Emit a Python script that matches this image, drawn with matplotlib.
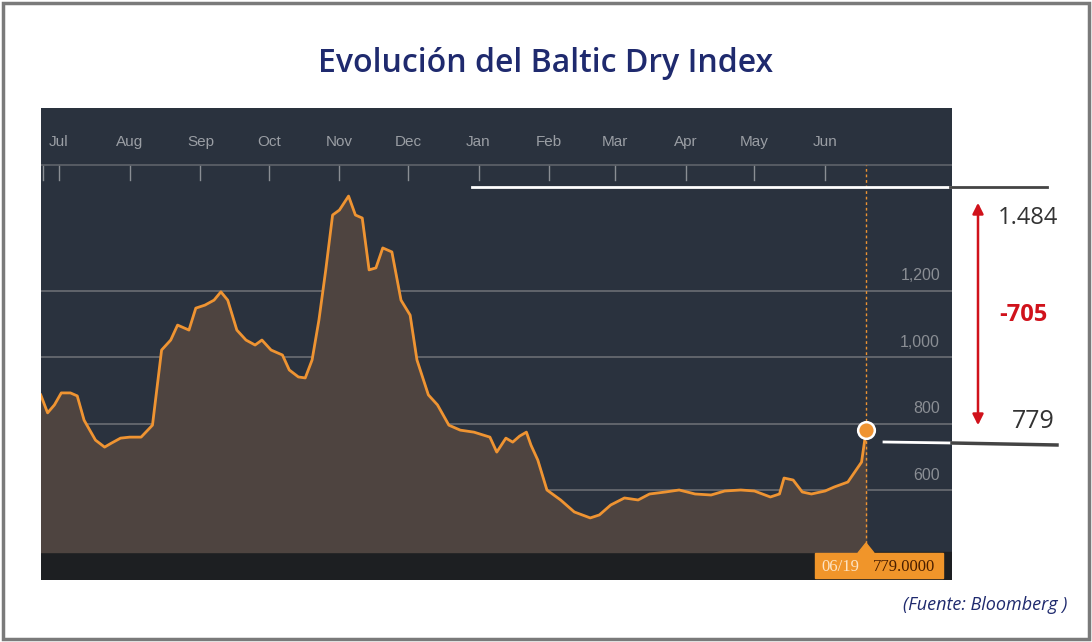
import matplotlib
matplotlib.use("Agg")
import matplotlib.pyplot as plt
from matplotlib.patches import Rectangle, Polygon, FancyArrowPatch
from matplotlib.lines import Line2D

# days since 2015-07-01
days = [-8,-5,-2,1,5,8,11,16,20,23,27,31,36,41,45,49,52,57,60,64,68,71,74,78,82,86,89,93,98,101,
        105,108,111,114,117,120,123,127,130,133,136,139,142,146,150,154,157,162,166,171,176,182,189,
        192,196,199,202,205,207,210,214,220,226,233,237,242,248,254,259,266,272,279,286,292,299,305,
        312,316,318,322,326,330,336,340,346,349,352,354]
values = [886,832,856,892,892,883,810,750,729,741,756,759,759,795,1021,1051,1096,1081,1147,1156,
          1171,1196,1171,1081,1051,1036,1051,1021,1006,961,940,937,991,1111,1262,1427,1442,1484,
          1427,1418,1262,1268,1328,1316,1171,1126,991,886,856,795,780,774,759,714,756,744,762,774,
          735,690,600,570,534,516,525,555,576,570,588,594,600,588,585,597,600,597,579,588,636,630,
          594,588,597,609,624,654,684,779]
month_labels = ["Jul","Aug","Sep","Oct","Nov","Dec","Jan","Feb","Mar","Apr","May","Jun"]
month_days = [0,31,62,92,123,153,184,215,244,275,305,336]
y_ticks = [600,800,1000,1200]
y_tick_labels = ["600","800","1,000","1,200"]
last_label = "06/19"
last_value = "779.0000"
title = "Evolución del Baltic Dry Index"
source = "(Fuente: Bloomberg )"

W, H = 1092, 642
fig = plt.figure(figsize=(W/100, H/100), dpi=100)
def fx(x): return x / W
def fy(y): return 1 - y / H

fig.add_artist(Rectangle((fx(3), fy(639)), fx(1086), (636)/H, transform=fig.transFigure,
                         fill=False, edgecolor="#7a7a7a", lw=2.5))

k = 0.3325
def v_of(py): return 600 + (490 - py) / k
def d_of(px): return (px - 59) / 2.28

ax = fig.add_axes([fx(41), fy(580), (952-41)/W, (580-108)/H])
ax.set_xlim(d_of(41), d_of(952))
ax.set_ylim(v_of(580), v_of(108))
ax.set_facecolor("#2a323e")
for s in ax.spines.values():
    s.set_visible(False)
ax.set_xticks([]); ax.set_yticks([])

base = v_of(552)
ax.axhspan(v_of(580), base, color="#1d1f22", zorder=1)
for yv, lab in zip(y_ticks, y_tick_labels):
    ax.axhline(yv, color="#6a6e74", lw=1.2, zorder=2)
    ax.text(d_of(940), yv + 45, lab, ha="right", va="center", color="#8a8e94", fontsize=11.5,
            family="Liberation Sans")
ax.fill_between(days, values, base, color="#4e4440", zorder=3)
ax.plot(days, values, color="#ef9432", lw=2, zorder=4)

ax.axhline(v_of(165), color="#5e636a", lw=1.2)
ax.plot([d_of(43)]*2, [v_of(166), v_of(180)], color="#8a8e94", lw=1)
for d, lab in zip(month_days, month_labels):
    ax.plot([d, d], [v_of(166), v_of(180)], color="#8a8e94", lw=1)
    ax.text(d, v_of(142), lab, ha="center", va="center", color="#9a9ea4", fontsize=11,
            family="Liberation Sans")

ld, lv = days[-1], values[-1]
ax.plot([ld, ld], [base + 10, v_of(165)], color="#ef9432", lw=1, ls=(0, (2, 2)), zorder=3)
ax.plot([ld], [lv], "o", ms=12, mfc="#ef9432", mec="white", mew=1.8, zorder=6)

fig.add_artist(Rectangle((fx(815), fy(578)), (943-815)/W, 25/H, transform=fig.transFigure,
                         color="#f0952a", zorder=10))
fig.add_artist(Polygon([(fx(858), fy(553)), (fx(874), fy(553)), (fx(866), fy(543))],
                       transform=fig.transFigure, color="#f0952a", zorder=10))
fig.text(fx(840), fy(567), last_label, color="#fde4c4", fontsize=12, family="Liberation Serif",
         ha="center", va="center", zorder=11)
fig.text(fx(904), fy(567), last_value, color="#4a1e00", fontsize=12, family="Liberation Serif",
         ha="center", va="center", zorder=11)

def fline(x0, y0, x1, y1, c, lw=2):
    fig.add_artist(Line2D([fx(x0), fx(x1)], [fy(y0), fy(y1)], transform=fig.transFigure,
                          color=c, lw=lw, zorder=9))
fline(472, 187, 950, 187, "white")
fline(950, 187, 1047, 187, "#444444")
fline(884, 442, 952, 443, "white")
fline(952, 443, 1057, 445, "#444444", 2.5)

fig.add_artist(FancyArrowPatch((fx(978), fy(200)), (fx(978), fy(428)), transform=fig.transFigure,
                               arrowstyle="<|-|>", mutation_scale=16, color="#d0121b", lw=1.8))
fig.text(fx(1028), fy(218), "1.484", ha="center", va="center", fontsize=17, color="#333333",
         family="Open Sans")
fig.text(fx(1023), fy(315), "-705", ha="center", va="center", fontsize=17, color="#d0121b",
         fontweight="bold", family="Open Sans")
fig.text(fx(1033), fy(422), "779", ha="center", va="center", fontsize=18, color="#333333",
         family="Open Sans")

fig.text(fx(546), fy(64), title, ha="center", va="center", fontsize=23, color="#1f2a6e",
         family="Open Sans", fontweight="semibold")
fig.text(fx(1067), fy(605), source, ha="right", va="center", fontsize=13, color="#1f2a6e",
         style="italic", family="Open Sans")

fig.savefig("out.png", dpi=100, facecolor="white")
